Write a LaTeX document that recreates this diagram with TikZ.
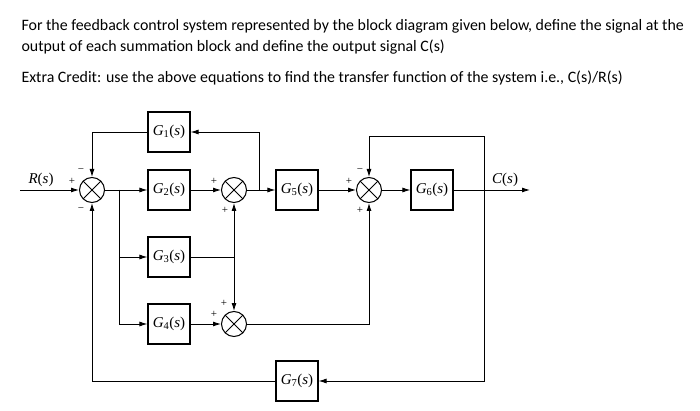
\documentclass[tikz,border=0pt]{standalone}
\usepackage{fontspec}
\setmainfont{Carlito}
\newfontfamily\tms{Liberation Serif}
\newcommand{\Gs}[1]{\textit{G}\textsubscript{#1}(\textit{s})}
\usetikzlibrary{arrows.meta}
\begin{document}
\begin{tikzpicture}[x=1pt,y=-1pt,
  blk/.style={draw,line width=1.1pt,minimum width=42pt,minimum height=40pt,inner sep=0pt,font=\tms\fontsize{15}{15}\selectfont},
  sum/.style={draw,line width=1pt,circle,minimum size=25pt,inner sep=0pt,path picture={\draw[line width=1pt] (path picture bounding box.north west)--(path picture bounding box.south east) (path picture bounding box.north east)--(path picture bounding box.south west);}},
  sig/.style={line width=0.9pt},
  arr/.style={sig,-{Latex[length=8pt,width=5pt]}},
  sg/.style={font=\tms\fontsize{11}{11}\selectfont,inner sep=1pt}]
\useasboundingbox (0,0) rectangle (700,411);
\node[anchor=west,align=left,font=\fontsize{15.9}{21}\selectfont] (t1) at (18,37) {For the feedback control system represented by the block diagram given below, define the signal at the\\ output of each summation block and define the output signal C(s)};
\node[anchor=west,font=\fontsize{15.9}{21}\selectfont] (t2) at (18,78) {Extra Credit: use the above equations to find the transfer function of the system i.e., C(s)/R(s)};
\node[sum] (s1) at (92,190) {};
\node[sum] (s2) at (234,190) {};
\node[sum] (s3) at (369,190) {};
\node[sum] (s4) at (234,324) {};
\node[blk] (g1) at (169,132) {\Gs{1}};
\node[blk] (g2) at (169,190) {\Gs{2}};
\node[blk] (g3) at (169,257) {\Gs{3}};
\node[blk] (g4) at (169,324) {\Gs{4}};
\node[blk] (g5) at (297,190) {\Gs{5}};
\node[blk] (g6) at (432,190) {\Gs{6}};
\node[blk] (g7) at (297,381) {\Gs{7}};
\coordinate (rin) at (20,190);
\coordinate (cout) at (530,190);
\coordinate (br) at (484,190);
\coordinate (sp) at (119,190);
\coordinate (sp2) at (259,190);
\coordinate (j3) at (234,257);
\node[font=\tms\fontsize{15}{15}\selectfont] (rl) at (41,180) {\textit{R}(\textit{s})};
\node[font=\tms\fontsize{15}{15}\selectfont] (cl) at (505,180) {\textit{C}(\textit{s})};
\draw[arr] (rin) -- (s1);
\draw[sig] (s1) -- (sp);
\draw[arr] (sp) -- (g2);
\draw[arr] (sp) |- (g3);
\draw[arr] (sp) |- (g4);
\draw[arr] (g2) -- (s2);
\draw[sig] (s2) -- (sp2);
\draw[arr] (sp2) -- (g5);
\draw[arr] (sp2) |- (g1);
\draw[arr] (g1) -| (s1);
\draw[sig] (g3) -- (j3);
\draw[arr] (j3) -- (s2);
\draw[arr] (j3) -- (s4);
\draw[arr] (g4) -- (s4);
\draw[arr] (s4) -| (s3);
\draw[arr] (g5) -- (s3);
\draw[arr] (s3) -- (g6);
\draw[arr] (g6) -- (cout);
\draw[arr] (br) |- (369,136) -- (s3);
\draw[arr] (br) |- (g7);
\draw[arr] (g7) -| (s1);
\node[sg] (p1) at (72,181) {+};
\node[sg] (m1) at (81,171) {\textminus};
\node[sg] (m2) at (81,210) {\textminus};
\node[sg] (p2) at (214,181) {+};
\node[sg] (p3) at (225,210) {+};
\node[sg] (p4) at (349,181) {+};
\node[sg] (m3) at (360,171) {\textminus};
\node[sg] (p5) at (360,210) {+};
\node[sg] (p6) at (214,314) {+};
\node[sg] (p7) at (224,303) {+};
\end{tikzpicture}
\end{document}
